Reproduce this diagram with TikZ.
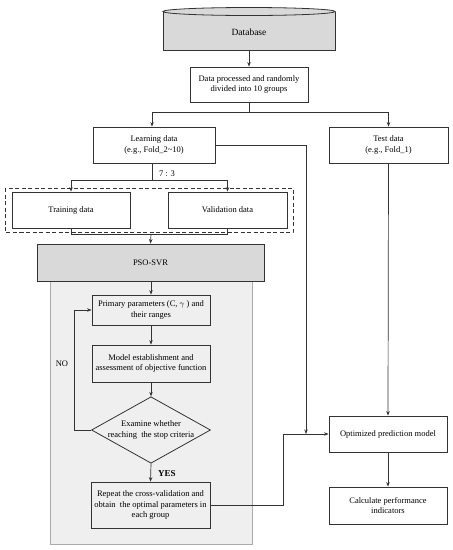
\documentclass[tikz,border=0pt]{standalone}
\usepackage{fontspec}
\setmainfont{Liberation Serif}
\usetikzlibrary{arrows.meta,shapes.geometric}
\definecolor{linec}{HTML}{333333}
\definecolor{darkfill}{HTML}{D9D9D9}
\definecolor{panelfill}{HTML}{EFEFEF}
\definecolor{panelline}{HTML}{ABABAB}
\begin{document}
\begin{tikzpicture}[x=1pt,y=-1pt,
  txt/.style={font=\fontsize{8.5}{10.5}\selectfont, align=center},
  box/.style={txt, draw=linec, line width=0.8pt, inner sep=1pt},
  conn/.style={draw=linec, line width=0.7pt},
  arr/.style={conn, -{Stealth[length=4.5pt,width=3.5pt]}},
  lab/.style={font=\fontsize{8.5}{10.5}\selectfont, inner sep=0pt}]
\useasboundingbox (0,0) rectangle (453,550);
% background panel
\fill[panelfill] (50,281) rectangle (252,544);
\draw[panelline, line width=1pt] (50,281) -- (50,544) -- (252,544) -- (252,281);
% database cylinder
\fill[darkfill] (163,11.5) -- (163,50) -- (335,50) -- (335,11.5) -- cycle;
\draw[linec, line width=0.8pt] (163,11.5) -- (163,50) -- (335,50) -- (335,11.5);
\draw[linec, line width=0.8pt, fill=darkfill] (249,11.5) ellipse [x radius=86pt, y radius=4pt];
\node[txt, minimum width=172pt, minimum height=35pt, inner sep=0pt, font=\fontsize{9.5}{11}\selectfont] (db) at (249,32.5) {Database};
% boxes
\node[box, minimum width=118pt, minimum height=35pt] (dp) at (249,84.5) {Data processed and randomly\\divided into 10 groups};
\node[box, minimum width=122pt, minimum height=36pt] (learn) at (154,145) {Learning data\\(e.g., Fold\_2\textasciitilde10)};
\node[box, minimum width=119pt, minimum height=36pt] (test) at (388.5,145) {Test data\\(e.g., Fold\_1)};
\node[box, minimum width=118pt, minimum height=36pt] (train) at (71,210) {Training data};
\node[box, minimum width=119pt, minimum height=36pt] (valid) at (227.5,210) {Validation data};
\draw[linec, line width=0.8pt, dash pattern=on 4pt off 2.5pt] (5,188) rectangle (293,232);
\node[box, fill=darkfill, minimum width=227pt, minimum height=37pt] (pso) at (150.5,262.5) {PSO-SVR};
\node[box, minimum width=118pt, minimum height=30pt] (prim) at (151,310) {Primary parameters (C, $\gamma$ ) and\\their ranges};
\node[box, minimum width=118pt, minimum height=37pt] (model) at (151,363.5) {Model establishment and\\assessment of objective function};
\node[box, shape=diamond, aspect=1.79, inner sep=0pt, minimum width=118pt, minimum height=66pt] (exam) at (151,430) {Examine whether\\reaching\ \ the stop criteria};
\node[box, minimum width=119pt, minimum height=46pt] (rep) at (150.5,505) {Repeat the cross-validation and\\obtain\ \ the optimal parameters in\\each group};
\node[box, minimum width=118pt, minimum height=36pt] (opt) at (388,434) {Optimized prediction model};
\node[box, minimum width=118pt, minimum height=37pt] (calc) at (388,505.5) {Calculate performance\\indicators};
% labels
\node[lab] (ratio) at (167,174) {7 : 3};
\node[lab] (no) at (62,364) {NO};
\node[lab, font=\fontsize{9}{10}\bfseries] (yes) at (167,474) {YES};
% coordinates
\coordinate (split) at (249,112);
\coordinate (lsplit) at (152,180);
\coordinate (merge) at (151,234);
\coordinate (mj) at (306,434);
% connectors
\draw[arr] (db.south) -- (dp.north);
\draw[conn] (dp.south) -- (split);
\draw[arr] (split) -| ([xshift=-2pt]learn.north);
\draw[arr] (split) -| (test.north);
\draw[arr] (learn.east) -| (mj);
\draw[conn] ([xshift=-2pt]learn.south) -- (lsplit);
\draw[arr] (lsplit) -| (train.north);
\draw[arr] (lsplit) -| (valid.north);
\draw[conn] (train.south) |- (merge);
\draw[conn] (valid.south) |- (merge);
\draw[arr] (merge) -- (pso.north);
\draw[arr] (pso.south -| prim.north) -- (prim.north);
\draw[arr] (prim.south) -- (model.north);
\draw[arr] (model.south) -- (exam.north);
\draw[arr] (exam.west) -- (74,430) |- (prim.west);
\draw[arr] (exam.south) -- (rep.north);
\draw[arr] (rep.east) -- (283,505) |- (opt.west);
\draw[arr] (test.south) -- (opt.north);
\draw[arr] (opt.south) -- (calc.north);
\end{tikzpicture}
\end{document}
